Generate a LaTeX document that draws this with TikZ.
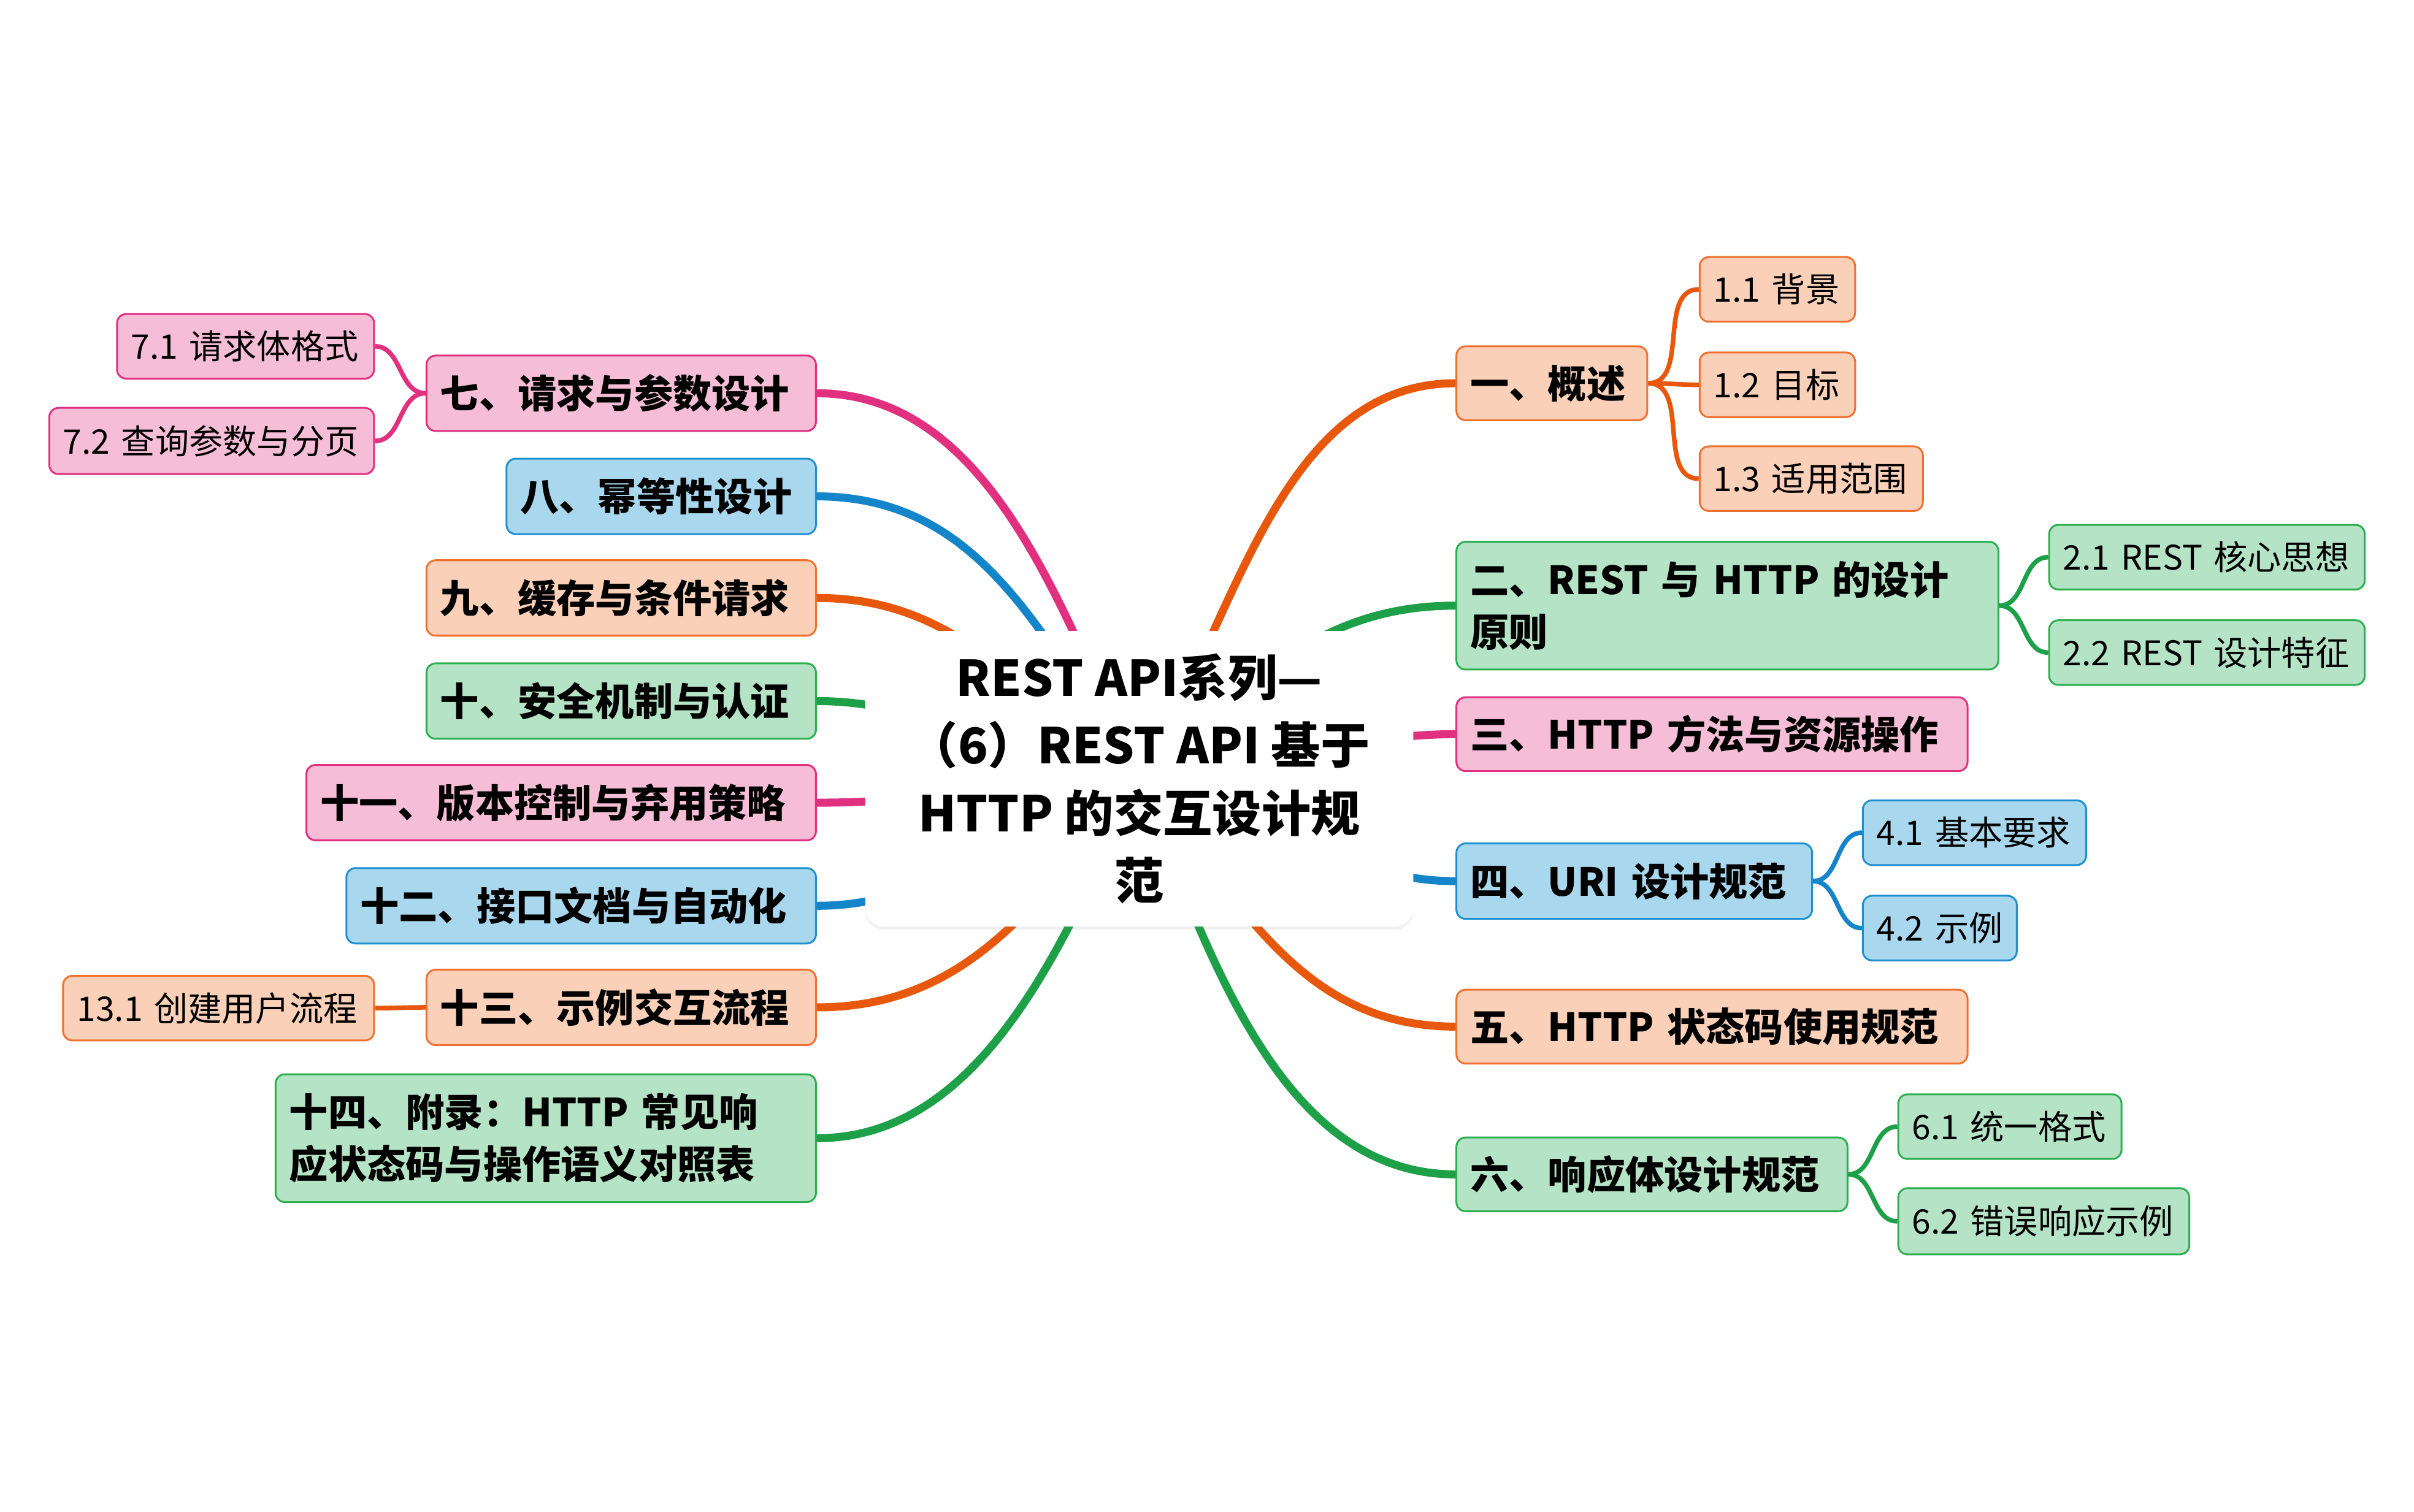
\documentclass[tikz,border=0pt]{standalone}
\usepackage{fontspec}
\setmainfont{Noto Sans CJK SC}
\usetikzlibrary{shadows}
\definecolor{oF}{HTML}{FAD0B8}\definecolor{oD}{HTML}{F07030}\definecolor{oL}{HTML}{E8580C}
\definecolor{gF}{HTML}{B5E3C5}\definecolor{gD}{HTML}{2BAF4F}\definecolor{gL}{HTML}{1EA048}
\definecolor{pF}{HTML}{F5BDD6}\definecolor{pD}{HTML}{E0307F}\definecolor{pL}{HTML}{E0307F}
\definecolor{bF}{HTML}{A9D8EE}\definecolor{bD}{HTML}{1E90D0}\definecolor{bL}{HTML}{1485C8}
\newcommand\bx[7]{\pgfmathsetmacro\bw{(#4-#2)*0.5}\pgfmathsetmacro\bh{(#5-#3)*0.5}\pgfmathsetmacro\tw{(#4-#2-18)*0.5}%
\node[#6, minimum width=\bw pt, minimum height=\bh pt, text width=\tw pt, align=left] (#1) at ({(#2+#4)/2},{(#3+#5)/2}) {#7};}
\begin{document}
\begin{tikzpicture}[x=0.5pt,y=-0.5pt,
 box/.style={draw, rounded corners=3pt, line width=0.6pt, inner xsep=4.5pt, inner ysep=0pt},
 br/.style={box, font=\bfseries\fontsize{12.6}{17}\selectfont},
 lf/.style={box, font=\fontsize{11}{13}\selectfont},
 O/.style={fill=oF, draw=oD}, G/.style={fill=gF, draw=gD}, P/.style={fill=pF, draw=pD}, B/.style={fill=bF, draw=bD},
 ml/.style={line width=2.6pt}, sl/.style={line width=1.5pt}]
\useasboundingbox (0,0) rectangle (1568,982);
% right branches
\bx{a}{946}{225}{1070}{273}{br,O}{一、概述}
\bx{a1}{1104}{167}{1205}{209}{lf,O}{1.1 背景}
\bx{a2}{1104}{229}{1205}{271}{lf,O}{1.2 目标}
\bx{a3}{1104}{290}{1249}{332}{lf,O}{1.3 适用范围}
\bx{b}{946}{352}{1298}{435}{br,G}{二、REST 与 HTTP 的设计\\原则}
\bx{b1}{1331}{341}{1536}{383}{lf,G}{2.1 REST 核心思想}
\bx{b2}{1331}{403}{1536}{445}{lf,G}{2.2 REST 设计特征}
\bx{c}{946}{453}{1278}{501}{br,P}{三、HTTP 方法与资源操作}
\bx{d}{946}{548}{1177}{597}{br,B}{四、URI 设计规范}
\bx{d1}{1210}{520}{1355}{562}{lf,B}{4.1 基本要求}
\bx{d2}{1210}{582}{1310}{624}{lf,B}{4.2 示例}
\bx{e}{946}{643}{1278}{691}{br,O}{五、HTTP 状态码使用规范}
\bx{f}{946}{739}{1200}{787}{br,G}{六、响应体设计规范}
\bx{f1}{1233}{711}{1378}{753}{lf,G}{6.1 统一格式}
\bx{f2}{1233}{772}{1422}{815}{lf,G}{6.2 错误响应示例}
% left branches
\bx{g}{277}{231}{530}{280}{br,P}{七、请求与参数设计}
\bx{g1}{76}{204}{243}{246}{lf,P}{7.1 请求体格式}
\bx{g2}{32}{265}{243}{308}{lf,P}{7.2 查询参数与分页}
\bx{h}{329}{298}{530}{347}{br,B}{八、幂等性设计}
\bx{i}{277}{364}{530}{413}{br,O}{九、缓存与条件请求}
\bx{j}{277}{431}{530}{480}{br,G}{十、安全机制与认证}
\bx{k}{199}{497}{530}{546}{br,P}{十一、版本控制与弃用策略}
\bx{l}{225}{564}{530}{613}{br,B}{十二、接口文档与自动化}
\bx{m}{277}{630}{530}{679}{br,O}{十三、示例交互流程}
\bx{m1}{41}{634}{243}{676}{lf,O}{13.1 创建用户流程}
\bx{n}{179}{698}{530}{781}{br,G}{十四、附录：HTTP 常见响\\应状态码与操作语义对照表}
\coordinate (cc) at (740,506);
% main connectors
\draw[ml,oL] (cc) to[out=58,in=180,looseness=0.9] (a.west);
\draw[ml,gL] (cc) to[out=40,in=180] (b.west);
\draw[ml,pL] (cc) to[out=0,in=180] (c.west);
\draw[ml,bL] (cc) to[out=-5,in=180] (d.west);
\draw[ml,oL] (cc) to[out=-50,in=180] (e.west);
\draw[ml,gL] (cc) to[out=-68,in=180,looseness=0.9] (f.west);
\draw[ml,pL] (cc) to[out=115,in=0,looseness=0.9] (g.east);
\draw[ml,bL] (cc) to[out=125,in=0] (h.east);
\draw[ml,oL] (cc) to[out=145,in=0] (i.east);
\draw[ml,gL] (cc) to[out=178,in=0] (j.east);
\draw[ml,pL] (cc) to[out=182,in=0] (k.east);
\draw[ml,bL] (cc) to[out=195,in=0] (l.east);
\draw[ml,oL] (cc) to[out=230,in=0] (m.east);
\draw[ml,gL] (cc) to[out=245,in=0,looseness=0.9] (n.east);
% sub connectors
\foreach \p/\q/\c in {a/a1/oL,a/a2/oL,a/a3/oL,b/b1/gL,b/b2/gL,d/d1/bL,d/d2/bL,f/f1/gL,f/f2/gL}
  \draw[sl,\c] (\p.east) to[out=0,in=180] (\q.west);
\foreach \p/\q/\c in {g/g1/pL,g/g2/pL,m/m1/oL}
  \draw[sl,\c] (\p.west) to[out=180,in=0] (\q.east);
% centre
\node[fill=white, rounded corners=6pt, minimum width=178pt, minimum height=96pt, align=center,
 drop shadow={opacity=0.12,shadow xshift=0pt,shadow yshift=-1pt},
 font=\bfseries\fontsize{16}{22}\selectfont] (ctr) at (740,506)
 {REST API系列—\\（6）REST API 基于\\HTTP 的交互设计规\\范};
\end{tikzpicture}
\end{document}
